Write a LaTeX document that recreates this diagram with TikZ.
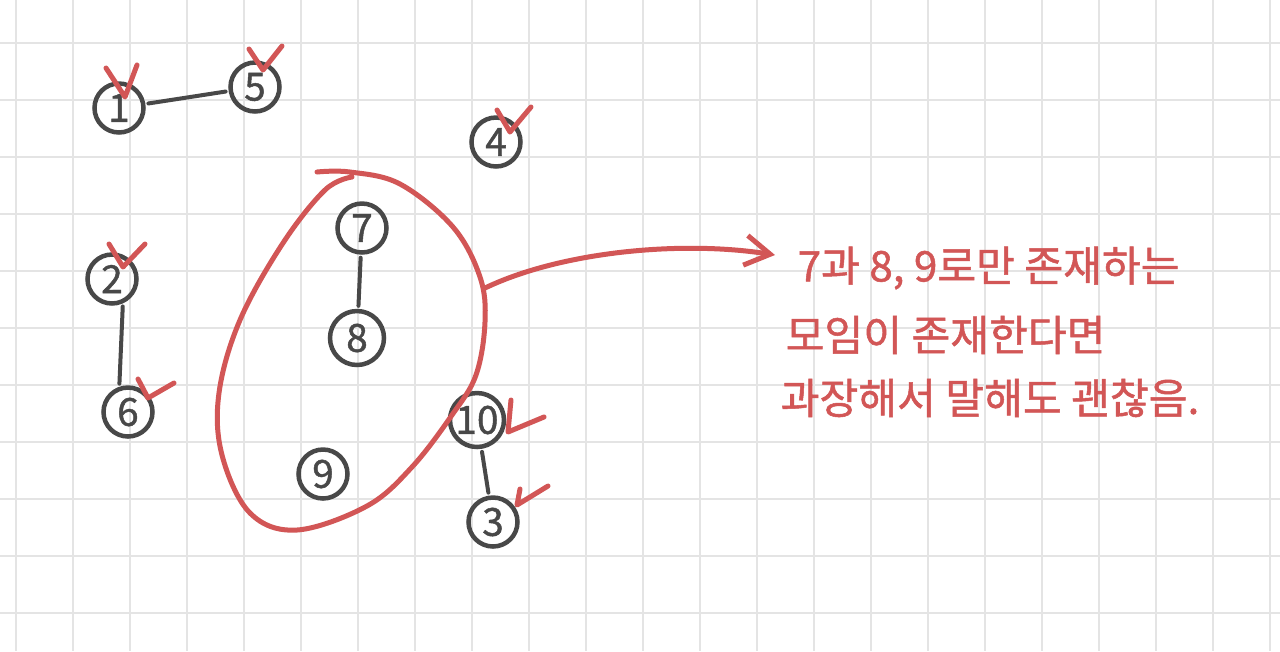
\documentclass[tikz,border=0pt]{standalone}
\usepackage{fontspec}
\setmainfont{Noto Sans CJK KR}
\newfontfamily\handfont{Noto Sans CJK KR}[FakeBold=1.2]
\usetikzlibrary{arrows.meta}
\definecolor{pen}{RGB}{72,72,72}
\definecolor{redpen}{RGB}{210,86,86}
\definecolor{gridgray}{RGB}{228,228,228}

\begin{document}
\begin{tikzpicture}[x=0.1mm,y=-0.1mm]
	\tikzset{vert/.style={draw=pen, circle, line width=0.45mm, minimum size=4.9mm, inner sep=0pt, text=pen, font=\handfont\fontsize{11}{13}\selectfont}}
	\tikzset{edge/.style={draw=pen, line width=0.4mm, line cap=round, shorten <=0.3mm, shorten >=0.3mm}}
	\tikzset{tick/.style={draw=redpen, line width=0.5mm, line cap=round, line join=round}}
	\tikzset{note/.style={anchor=west, inner sep=0pt, text=redpen, font=\handfont\fontsize{12}{14}\selectfont}}

	\useasboundingbox (0,0) rectangle (1280,651);
	\fill[white] (0,0) rectangle (1280,651);

	% grid paper
	\foreach \i in {0,...,22}
		\draw[gridgray, line width=0.2mm] (15.5+57*\i,0) -- (15.5+57*\i,651);
	\foreach \j in {0,...,10}
		\draw[gridgray, line width=0.2mm] (0,43+57*\j) -- (1280,43+57*\j);

	% vertices
	\node[vert] (n1) at (119,108) {1};
	\node[vert] (n5) at (255,87) {5};
	\node[vert] (n4) at (496,142) {4};
	\node[vert] (n2) at (112,279) {2};
	\node[vert] (n6) at (128,412) {6};
	\node[vert] (n7) at (362,228) {7};
	\node[vert, minimum size=5.4mm] (n8) at (357,338) {8};
	\node[vert] (n9) at (323,474) {9};
	\node[vert, minimum size=5.4mm] (n10) at (477,420) {10};
	\node[vert] (n3) at (493,522) {3};

	\draw[edge] (n1) -- (n5);
	\draw[edge] (n7) -- (n8);
	\draw[edge] (n2.-66) -- (n6.109);
	\draw[edge] (n10) -- (n3);

	% check marks
	\draw[tick] (106,68) -- (125,97) -- (137,65);
	\draw[tick] (249,49) -- (263,70) -- (282,46);
	\draw[tick] (497,110) -- (510,132) -- (531,107);
	\draw[tick] (109,244) -- (123,267) -- (145,244);
	\draw[tick] (138,379) -- (148,398) -- (174,383);
	\draw[tick] (511,400) -- (508,432) -- (544,417);
	\draw[tick] (520,489) -- (517,505) -- (548,486);

	% the loop round 7, 8, 9
	\draw[tick] plot[smooth, tension=0.6] coordinates {(317,172) (350,172) (400,184) (453,227) (480,277) (485,322) (476,375) (452,415) (412,467) (367,506) (297,530) (250,513) (222,455) (219,393) (240,320) (283,243) (325,190) (352,177)};
	\coordinate (loopR) at (485,288);
	\coordinate (tipA) at (775,255);
	\draw[tick, -{Straight Barb[length=2.5mm, width=3mm]}] (loopR) .. controls (560,252) and (680,240) .. (tipA);

	\node[note] (t1) at (797,268) {7과 8, 9로만 존재하는};
	\node[note] (t2) at (785,335) {모임이 존재한다면};
	\node[note] (t3) at (780,398) {과장해서 말해도 괜찮음.};
\end{tikzpicture}
\end{document}
